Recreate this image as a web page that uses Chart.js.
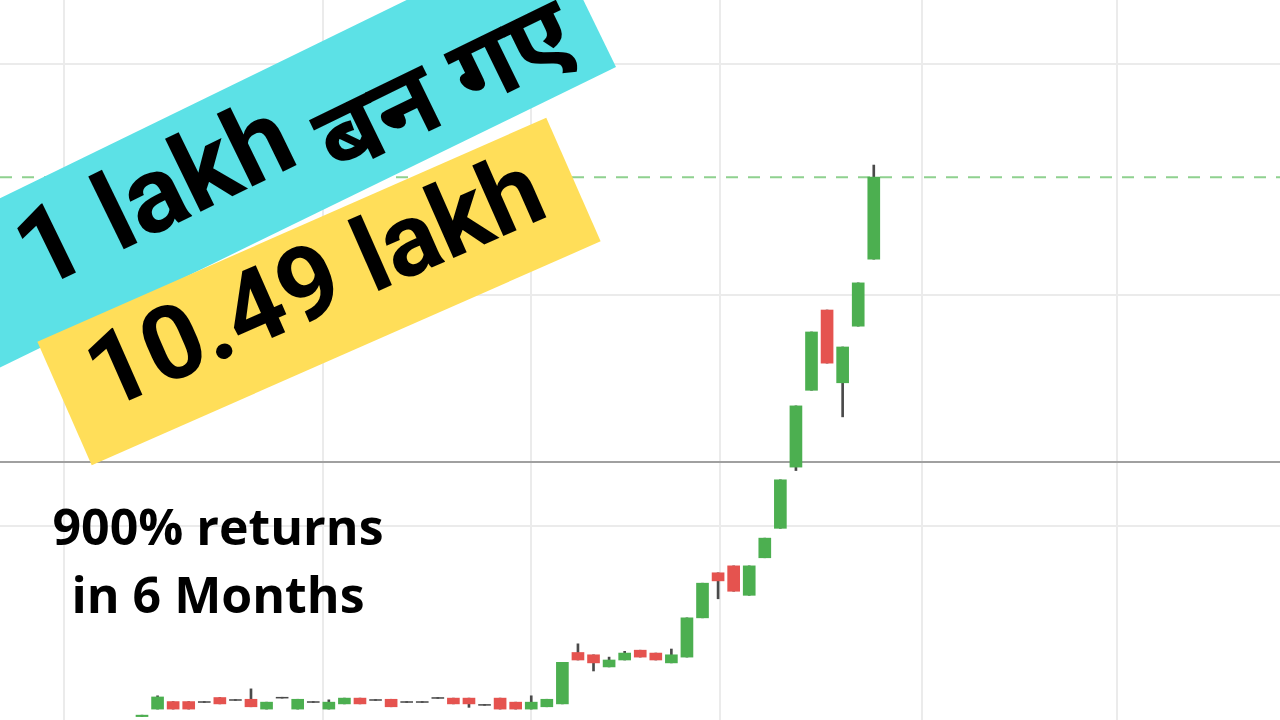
<!DOCTYPE html>
<html>
<head>
<meta charset="utf-8">
<script src="https://cdn.jsdelivr.net/npm/chart.js@4.4.1/dist/chart.umd.min.js"></script>
<style>
  body { margin: 0; background: #fff; }
  #wrap { position: relative; width: 1280px; height: 720px; overflow: hidden; background: #fff; }
  #chart { position: absolute; left: 0; top: 0; }
  .band {
    position: absolute;
    display: flex;
    align-items: center;
    color: #000;
    font-family: Roboto, "Noto Sans", "Noto Sans Devanagari", sans-serif;
    font-weight: 700;
    white-space: nowrap;
    line-height: 1;
  }
  .band span { position: relative; }
  #cyan {
    left: -144px; top: -85px; width: 760px; height: 152px;
    background: #5ce1e6;
    transform-origin: 100% 100%;
    transform: rotate(-26deg);
    justify-content: flex-end;
    padding-right: 26px;
    box-sizing: border-box;
    font-size: 101px;
  }
  #cyan > span { top: -21px; }
  #cyan .lat { font-size: 108px; top: 8px; }
  #cyan .dev { top: 36px; }
  #yellow {
    left: 41px; top: 224px; width: 556px; height: 135px;
    background: #ffde59;
    transform: rotate(-23.75deg);
    justify-content: center;
    font-size: 103px;
  }
  #yellow span { top: -12px; }
  #note {
    position: absolute; left: 0; top: 492px; width: 436px;
    text-align: center;
    font-family: "Open Sans", sans-serif;
    font-weight: 700;
    font-size: 50px;
    line-height: 68px;
    color: #000;
  }
</style>
</head>
<body>
<div id="wrap">
  <canvas id="chart" width="1280" height="720"></canvas>
  <div id="cyan" class="band"><span><span class="lat">1 lakh</span> <span class="dev">बन गए</span></span></div>
  <div id="yellow" class="band"><span>10.49 lakh</span></div>
  <div id="note">900% returns<br>in 6 Months</div>
</div>
<script>
// daily candles, price in rupees
const opens  = [7.0, 8.3, 9.6, 9.6, 9.45, 10.3, 9.8, 10.0, 8.3, 10.2, 8.3, 9.45, 8.3, 9.2, 10.2, 9.8,
                10.0, 9.45, 9.45, 10.15, 10.2, 10.2, 8.95, 10.2, 9.5, 8.3, 8.7, 9.2, 18.1, 17.7, 15.6, 16.8,
                18.5, 18.0, 16.3, 17.3, 24.1, 31.9, 33.1, 28.0, 34.5, 39.6, 50.2, 63.5, 77.4, 64.8, 74.6, 86.2];
const highs  = [7.25, 10.6, 9.6, 9.6, 9.6, 10.3, 9.95, 11.8, 9.5, 10.35, 10.0, 9.6, 9.9, 10.2, 10.2, 9.95,
                10.0, 9.6, 9.6, 10.3, 10.2, 10.2, 9.1, 10.2, 9.5, 10.6, 10.0, 16.4, 19.6, 17.7, 17.3, 18.3,
                18.5, 18.0, 18.7, 24.1, 30.1, 31.9, 33.1, 33.1, 37.9, 48.0, 60.8, 73.6, 77.4, 71.0, 82.1, 102.5];
const lows   = [7.0, 8.3, 8.3, 8.3, 9.45, 9.2, 9.8, 8.7, 8.3, 10.2, 8.3, 9.45, 8.3, 9.2, 9.2, 9.8,
                8.7, 9.45, 9.45, 10.15, 9.2, 8.6, 8.95, 8.3, 8.3, 8.3, 8.7, 9.2, 16.8, 14.9, 15.6, 16.8,
                17.3, 16.8, 16.3, 17.3, 24.1, 27.4, 28.7, 28.0, 34.5, 39.6, 49.6, 63.5, 68.2, 58.9, 74.6, 86.2];
const closes = [7.25, 10.4, 8.3, 8.3, 9.6, 9.2, 9.95, 8.7, 9.5, 10.35, 10.0, 9.6, 9.5, 10.2, 9.2, 9.95,
                8.7, 9.6, 9.6, 10.3, 9.2, 9.2, 9.1, 8.3, 8.3, 9.5, 10.0, 16.4, 16.8, 16.3, 16.8, 18.0,
                17.3, 16.8, 17.7, 24.1, 30.1, 30.5, 28.7, 33.1, 37.9, 48.0, 60.8, 73.6, 68.2, 71.0, 82.1, 100.4];

const priceTicks = [40, 80, 120];           // light horizontal grid
const refLevel = 51;                        // darker horizontal line
const xGridTicks = [-5, 11.6, 25, 37.1, 50.1, 62.6]; // month separators (in candle units)
const xRange = [-9.12, 73.09];
const yRange = [6.41, 131.08];

const UP = '#4caf50', DOWN = '#e5534f', DOJI = '#4a4a4a', WICK = '#4a4a4a';

const bodies = opens.map((o, i) => ({ x: i, y: [o, closes[i]] }));
const wicks = lows.map((l, i) => ({ x: i, y: [l, highs[i]] }));
const bodyColors = opens.map((o, i) => {
  const d = closes[i] - o;
  if (Math.abs(d) < 0.2) return DOJI;
  return d > 0 ? UP : DOWN;
});

// dashed line at the last close
const priceLine = {
  id: 'priceLine',
  beforeDatasetsDraw(chart) {
    const { ctx, chartArea, scales } = chart;
    const y = scales.y.getPixelForValue(closes[closes.length - 1]);
    ctx.save();
    ctx.strokeStyle = '#8fd18f';
    ctx.lineWidth = 2;
    ctx.setLineDash([12, 10]);
    ctx.beginPath();
    ctx.moveTo(chartArea.left, y);
    ctx.lineTo(chartArea.right, y);
    ctx.stroke();
    ctx.restore();
  }
};

new Chart(document.getElementById('chart'), {
  type: 'bar',
  data: {
    datasets: [
      { label: 'body', data: bodies, backgroundColor: bodyColors, barThickness: 12, grouped: false, order: 0 },
      { label: 'wick', data: wicks, backgroundColor: WICK, barThickness: 2, grouped: false, order: 1 }
    ]
  },
  options: {
    responsive: false,
    animation: false,
    layout: { padding: 0 },
    plugins: { legend: { display: false }, tooltip: { enabled: false } },
    scales: {
      x: {
        type: 'linear',
        offset: false,
        min: xRange[0], max: xRange[1],
        afterBuildTicks: s => { s.ticks = xGridTicks.map(v => ({ value: v })); },
        ticks: { display: false },
        border: { display: false },
        grid: { color: '#ebebeb', lineWidth: 2, drawTicks: false, offset: false }
      },
      y: {
        min: yRange[0], max: yRange[1],
        afterBuildTicks: s => { s.ticks = priceTicks.concat([refLevel]).map(v => ({ value: v })); },
        ticks: { display: false },
        border: { display: false },
        grid: {
          drawTicks: false,
          lineWidth: 2,
          color: c => c.tick && c.tick.value === refLevel ? '#a0a0a0' : '#ebebeb'
        }
      }
    }
  },
  plugins: [priceLine]
});
</script>
</body>
</html>
